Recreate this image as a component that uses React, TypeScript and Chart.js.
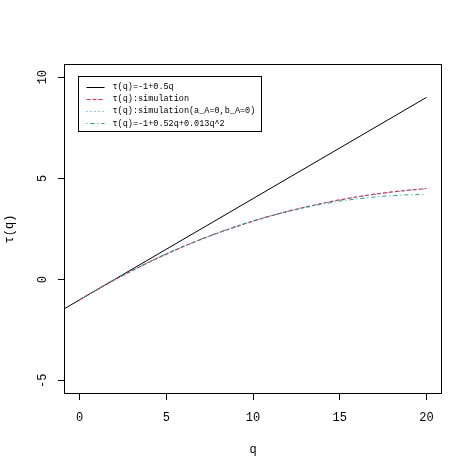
import { useEffect, useRef } from 'react';
import { Chart, registerables } from 'chart.js';
Chart.register(...registerables);

const qGrid = [0, 1, 2, 3, 4, 5, 6, 7, 8, 9, 10, 11, 12, 13, 14, 15, 16, 17, 18, 19, 20];

// straight line, end points
const lineQ = [-1, 20];
const lineTau = [-1.5, 9];

// simulation (red dashed)
const simTau = [-1.0, -0.5, -0.02, 0.43, 0.86, 1.26, 1.64, 1.99, 2.31, 2.61, 2.89, 3.14, 3.37, 3.58, 3.77, 3.94, 4.09, 4.22, 4.33, 4.42, 4.5];
// simulation with a_A=0, b_A=0 (blue dotted, mostly hidden under red)
const simTau0 = [-1.0, -0.5, -0.02, 0.43, 0.86, 1.26, 1.64, 1.99, 2.31, 2.61, 2.89, 3.14, 3.37, 3.58, 3.77, 3.94, 4.09, 4.21, 4.32, 4.41, 4.49];
// quadratic fit (green dot-dash)
const fitTau = [-1.0, -0.49, -0.01, 0.44, 0.87, 1.28, 1.65, 2.0, 2.33, 2.63, 2.9, 3.15, 3.37, 3.56, 3.73, 3.88, 3.99, 4.08, 4.15, 4.19, 4.2];

const seriesLabels = [
    'τ(q)=-1+0.5q',
    'τ(q):simulation',
    'τ(q):simulation(a_A=0,b_A=0)',
    'τ(q)=-1+0.52q+0.013q^2',
];

const xTicks = [0, 5, 10, 15, 20];
const yTicks = [-5, 0, 5, 10];

const FONT = "'Liberation Mono', 'DejaVu Sans Mono', monospace";

const toPoints = (xs: number[], ys: number[]) => xs.map((x, i) => ({ x, y: ys[i] }));

// box around the plot region + R-style legend in the top left corner
const frameAndLegend = {
    id: 'frameAndLegend',
    afterDatasetsDraw(chart: any) {
        const { ctx, chartArea: a } = chart;
        ctx.save();
        ctx.strokeStyle = '#000';
        ctx.lineWidth = 1;
        ctx.setLineDash([]);
        const l = Math.round(a.left) - 0.5;
        const t = Math.round(a.top) - 0.5;
        ctx.strokeRect(l, t, Math.round(a.right) - Math.round(a.left) + 1, Math.round(a.bottom) - Math.round(a.top) + 1);

        // legend
        const bx = a.left + 13.5, by = a.top + 11.5, bw = 183, bh = 55;
        ctx.fillStyle = '#fff';
        ctx.fillRect(bx, by, bw, bh);
        ctx.strokeStyle = '#000';
        ctx.strokeRect(bx, by, bw, bh);
        ctx.font = '8.5px ' + FONT;
        ctx.textBaseline = 'middle';
        ctx.textAlign = 'left';
        chart.data.datasets.forEach((ds: any, i: number) => {
            const y = by + 10 + i * 12.3;
            ctx.strokeStyle = ds.borderColor;
            ctx.setLineDash(ds.borderDash || []);
            ctx.beginPath();
            ctx.moveTo(bx + 8, Math.round(y) + 0.5);
            ctx.lineTo(bx + 26, Math.round(y) + 0.5);
            ctx.stroke();
            ctx.fillStyle = '#000';
            ctx.fillText(ds.label, bx + 34, y);
        });
        ctx.restore();
    },
};

const App = () => {
    const chartRef = useRef<HTMLCanvasElement>(null);

    useEffect(() => {
        let myChart: any = null;

        if (chartRef.current) {
            myChart = new Chart(chartRef.current, {
                type: 'scatter',
                data: {
                    datasets: [
                        {
                            label: seriesLabels[0],
                            data: toPoints(lineQ, lineTau),
                            borderColor: '#000000',
                            borderWidth: 1,
                            order: 4,
                        },
                        {
                            label: seriesLabels[1],
                            data: toPoints(qGrid, simTau),
                            borderColor: '#D9304F',
                            borderDash: [4, 2],
                            borderWidth: 1.2,
                            order: 3,
                        },
                        {
                            label: seriesLabels[2],
                            data: toPoints(qGrid, simTau0),
                            borderColor: '#2297E6',
                            borderDash: [1, 3],
                            borderWidth: 1,
                            order: 2,
                        },
                        {
                            label: seriesLabels[3],
                            data: toPoints(qGrid, fitTau),
                            borderColor: '#1FA27A',
                            borderDash: [1, 3, 4, 3],
                            borderWidth: 1,
                            order: 1,
                        },
                    ].map((d) => ({ ...d, showLine: true, pointRadius: 0, fill: false, tension: 0 })),
                },
                options: {
                    animation: false,
                    responsive: false,
                    layout: { padding: { left: 0, top: 65, right: 33, bottom: 0 } },
                    plugins: {
                        legend: { display: false },
                        tooltip: { enabled: false },
                    },
                    scales: {
                        x: {
                            type: 'linear',
                            min: -0.84,
                            max: 20.84,
                            afterBuildTicks: (scale: any) => {
                                scale.ticks = xTicks.map((v) => ({ value: v }));
                            },
                            afterFit: (scale: any) => {
                                scale.height = 81;
                            },
                            grid: { drawOnChartArea: false, tickLength: 7, color: '#000', tickColor: '#000' },
                            border: { display: false },
                            ticks: {
                                color: '#000',
                                font: { family: FONT, size: 12 },
                                padding: 11,
                                maxRotation: 0,
                                minRotation: 0,
                            },
                            title: {
                                display: true,
                                text: 'q',
                                color: '#000',
                                font: { family: FONT, size: 12 },
                                padding: { top: 0, bottom: 17 },
                            },
                        },
                        y: {
                            type: 'linear',
                            min: -5.6,
                            max: 10.6,
                            afterBuildTicks: (scale: any) => {
                                scale.ticks = yTicks.map((v) => ({ value: v }));
                            },
                            afterFit: (scale: any) => {
                                scale.width = 65;
                            },
                            grid: { drawOnChartArea: false, tickLength: 7, color: '#000', tickColor: '#000' },
                            border: { display: false },
                            ticks: {
                                color: '#000',
                                font: { family: FONT, size: 12 },
                                padding: 8,
                                minRotation: 90,
                                maxRotation: 90,
                                crossAlign: 'center',
                            },
                            title: {
                                display: true,
                                text: 'τ(q)',
                                color: '#000',
                                font: { family: FONT, size: 12 },
                                padding: { top: 3, bottom: 0 },
                            },
                        },
                    },
                },
                plugins: [frameAndLegend],
            } as any);
        }

        return () => {
            if (myChart) {
                myChart.destroy();
            }
        };
    }, []);

    return (
        <div style={{ position: 'fixed', left: 0, top: 0, width: 474, height: 474, background: '#fff' }}>
            <canvas ref={chartRef} width={474} height={474} style={{ display: 'block' }}></canvas>
        </div>
    );
};

export default App;
